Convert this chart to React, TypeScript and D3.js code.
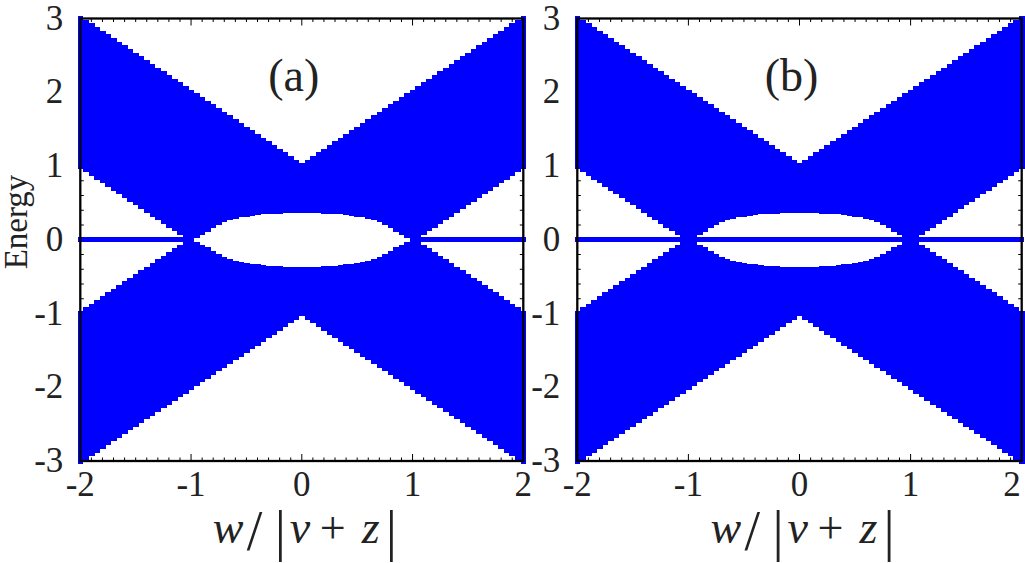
import React from 'react';
import * as d3 from 'd3';

// sampled coupling values w/|v+z| (one column of eigenvalues per value)
const wGrid = [
  -2.0, -1.95, -1.9, -1.85, -1.8, -1.75, -1.7, -1.65, -1.6, -1.55,
  -1.5, -1.45, -1.4, -1.35, -1.3, -1.25, -1.2, -1.15, -1.1, -1.05,
  -1.0, -0.95, -0.9, -0.85, -0.8, -0.75, -0.7, -0.65, -0.6, -0.55,
  -0.5, -0.45, -0.4, -0.35, -0.3, -0.25, -0.2, -0.15, -0.1, -0.05,
  0.0,
  0.05, 0.1, 0.15, 0.2, 0.25, 0.3, 0.35, 0.4, 0.45, 0.5,
  0.55, 0.6, 0.65, 0.7, 0.75, 0.8, 0.85, 0.9, 0.95, 1.0,
  1.05, 1.1, 1.15, 1.2, 1.25, 1.3, 1.35, 1.4, 1.45, 1.5,
  1.55, 1.6, 1.65, 1.7, 1.75, 1.8, 1.85, 1.9, 1.95, 2.0,
];

// upper band: outer (top) edge
const upperOuter = [
  3.0, 2.95, 2.9, 2.85, 2.8, 2.75, 2.7, 2.65, 2.6, 2.55,
  2.5, 2.45, 2.4, 2.35, 2.3, 2.25, 2.2, 2.15, 2.1, 2.05,
  2.0, 1.95, 1.9, 1.85, 1.8, 1.75, 1.7, 1.65, 1.6, 1.55,
  1.5, 1.45, 1.4, 1.35, 1.3, 1.25, 1.2, 1.15, 1.1, 1.05,
  1.0,
  1.05, 1.1, 1.15, 1.2, 1.25, 1.3, 1.35, 1.4, 1.45, 1.5,
  1.55, 1.6, 1.65, 1.7, 1.75, 1.8, 1.85, 1.9, 1.95, 2.0,
  2.05, 2.1, 2.15, 2.2, 2.25, 2.3, 2.35, 2.4, 2.45, 2.5,
  2.55, 2.6, 2.65, 2.7, 2.75, 2.8, 2.85, 2.9, 2.95, 3.0,
];

// upper band: inner (gap side) edge
const upperInner = [
  1.0, 0.95, 0.9, 0.85, 0.8, 0.75, 0.7, 0.65, 0.6, 0.55,
  0.5, 0.45, 0.4, 0.35, 0.3, 0.25, 0.2, 0.15, 0.1, 0.05,
  0.0, 0.06, 0.1, 0.14, 0.19, 0.23, 0.27, 0.3, 0.32, 0.34,
  0.35, 0.36, 0.37, 0.38, 0.39, 0.39, 0.39, 0.4, 0.4, 0.4,
  0.4,
  0.4, 0.4, 0.4, 0.39, 0.39, 0.39, 0.38, 0.37, 0.36, 0.35,
  0.34, 0.32, 0.3, 0.27, 0.23, 0.19, 0.14, 0.1, 0.06, 0.0,
  0.05, 0.1, 0.15, 0.2, 0.25, 0.3, 0.35, 0.4, 0.45, 0.5,
  0.55, 0.6, 0.65, 0.7, 0.75, 0.8, 0.85, 0.9, 0.95, 1.0,
];

// lower band: inner (gap side) edge
const lowerInner = [
  -1.0, -0.95, -0.9, -0.85, -0.8, -0.75, -0.7, -0.65, -0.6, -0.55,
  -0.5, -0.45, -0.4, -0.35, -0.3, -0.25, -0.2, -0.15, -0.1, -0.05,
  0.0, -0.06, -0.1, -0.14, -0.19, -0.23, -0.27, -0.3, -0.32, -0.34,
  -0.35, -0.36, -0.37, -0.38, -0.39, -0.39, -0.39, -0.4, -0.4, -0.4,
  -0.4,
  -0.4, -0.4, -0.4, -0.39, -0.39, -0.39, -0.38, -0.37, -0.36, -0.35,
  -0.34, -0.32, -0.3, -0.27, -0.23, -0.19, -0.14, -0.1, -0.06, 0.0,
  -0.05, -0.1, -0.15, -0.2, -0.25, -0.3, -0.35, -0.4, -0.45, -0.5,
  -0.55, -0.6, -0.65, -0.7, -0.75, -0.8, -0.85, -0.9, -0.95, -1.0,
];

// lower band: outer (bottom) edge
const lowerOuter = [
  -3.0, -2.95, -2.9, -2.85, -2.8, -2.75, -2.7, -2.65, -2.6, -2.55,
  -2.5, -2.45, -2.4, -2.35, -2.3, -2.25, -2.2, -2.15, -2.1, -2.05,
  -2.0, -1.95, -1.9, -1.85, -1.8, -1.75, -1.7, -1.65, -1.6, -1.55,
  -1.5, -1.45, -1.4, -1.35, -1.3, -1.25, -1.2, -1.15, -1.1, -1.05,
  -1.0,
  -1.05, -1.1, -1.15, -1.2, -1.25, -1.3, -1.35, -1.4, -1.45, -1.5,
  -1.55, -1.6, -1.65, -1.7, -1.75, -1.8, -1.85, -1.9, -1.95, -2.0,
  -2.05, -2.1, -2.15, -2.2, -2.25, -2.3, -2.35, -2.4, -2.45, -2.5,
  -2.55, -2.6, -2.65, -2.7, -2.75, -2.8, -2.85, -2.9, -2.95, -3.0,
];

// w ranges that carry zero-energy modes
const zeroLineA = [[-2.0, -1.0], [1.0, 2.0]];
const zeroLineB = [[-2.0, 2.0]];

const xTickValues = [-2, -1, 0, 1, 2];
const yTickValues = [-3, -2, -1, 0, 1, 2, 3];

const BLUE = '#0000ff';
const FONT = 'Liberation Serif';
const TOP = 18.5;
const BOTTOM = 461;

interface PanelProps {
  label: string;
  left: number;
  right: number;
  zero: number[][];
}

const Panel = ({ label, left, right, zero }: PanelProps) => {
  const x = d3.scaleLinear().domain([-2, 2]).range([left, right]);
  const y = d3.scaleLinear().domain([-3, 3]).range([BOTTOM, TOP]);
  const hw = (wGrid[1] - wGrid[0]) / 2;
  const pad = 2.6; // marker size
  const lineW = 4.7;
  const cx = (left + right) / 2;

  const isMajor = (v: number) => Math.abs(v - Math.round(v)) < 1e-6;

  return (
    <g>
      {/* ticks, drawn under the data */}
      <g stroke="#000" strokeWidth={1}>
        {x.ticks(40).map((v, i) => {
          const len = isMajor(v) ? 7 : 3.5;
          return (
            <g key={'xt' + i}>
              <line x1={x(v)} x2={x(v)} y1={BOTTOM} y2={BOTTOM - len} />
              <line x1={x(v)} x2={x(v)} y1={TOP} y2={TOP + len} />
            </g>
          );
        })}
        {y.ticks(30).map((v, i) => {
          const len = isMajor(v) ? 7 : 3.5;
          return (
            <g key={'yt' + i}>
              <line x1={left} x2={left + len} y1={y(v)} y2={y(v)} />
              <line x1={right} x2={right - len} y1={y(v)} y2={y(v)} />
            </g>
          );
        })}
      </g>

      {/* bands */}
      <g fill={BLUE} shapeRendering="crispEdges">
        {wGrid.map((w, i) => {
          const x0 = x(w - hw);
          const wd = x(w + hw) - x0 + 0.4;
          const uTop = y(upperOuter[i]) - pad;
          const uBot = y(upperInner[i]) + pad;
          const lTop = y(lowerInner[i]) - pad;
          const lBot = y(lowerOuter[i]) + pad;
          return (
            <g key={'c' + i}>
              <rect x={x0} y={uTop} width={wd} height={Math.max(0, uBot - uTop)} />
              <rect x={x0} y={lTop} width={wd} height={Math.max(0, lBot - lTop)} />
            </g>
          );
        })}
        {zero.map(([a, b], i) => (
          <rect
            key={'z' + i}
            x={x(a - hw)}
            y={y(0) - lineW / 2}
            width={x(b + hw) - x(a - hw)}
            height={lineW}
          />
        ))}
      </g>

      {/* frame */}
      <rect
        x={left}
        y={TOP}
        width={right - left}
        height={BOTTOM - TOP}
        fill="none"
        stroke="#000"
        strokeWidth={2.3}
      />

      {/* tick labels (the last one kept inside the figure) */}
      {xTickValues.map((v) => (
        <text
          key={'xl' + v}
          x={Math.min(x(v), 1012)}
          y={BOTTOM + 35}
          textAnchor="middle"
          style={{ fontFamily: FONT, fontSize: 35 }}
          fill="#222"
        >
          {String(v)}
        </text>
      ))}
      {yTickValues.map((v) => (
        <text
          key={'yl' + v}
          x={left - 17}
          y={y(v) + 11}
          textAnchor="end"
          style={{ fontFamily: FONT, fontSize: 35 }}
          fill="#222"
        >
          {String(v)}
        </text>
      ))}

      <text
        x={cx - 8}
        y={91}
        textAnchor="middle"
        fill="#222"
        style={{ fontFamily: FONT, fontSize: 46 }}
      >
        {label}
      </text>

      {/* x axis label: w/|v+z| */}
      <text fill="#222" style={{ fontFamily: FONT, fontSize: 46 }}>
        <tspan x={cx - 89} y={543} fontStyle="italic">w</tspan>
        <tspan x={cx - 55} y={550} style={{ fontSize: 56 }}>/</tspan>
        <tspan x={cx - 27} y={550} style={{ fontSize: 56 }}>|</tspan>
        <tspan x={cx - 12} y={543} fontStyle="italic">v</tspan>
        <tspan x={cx + 18} y={543}>+</tspan>
        <tspan x={cx + 60} y={543} fontStyle="italic">z</tspan>
        <tspan x={cx + 84} y={550} style={{ fontSize: 56 }}>|</tspan>
      </text>
    </g>
  );
};

const panels = [
  { label: '(a)', left: 80.3, right: 523.3, zero: zeroLineA },
  { label: '(b)', left: 577.3, right: 1021.7, zero: zeroLineB },
];

export default function App() {
  return (
    <svg
      width={1025}
      height={563}
      viewBox="0 0 1025 563"
      style={{ position: 'absolute', left: 0, top: 0, background: '#fff' }}
    >
      <rect width={1025} height={563} fill="#fff" />
      {panels.map((p) => (
        <Panel key={p.label} {...p} />
      ))}
      <text
        transform="translate(27, 222) rotate(-90)"
        textAnchor="middle"
        fill="#222"
        style={{ fontFamily: FONT, fontSize: 33 }}
      >
        Energy
      </text>
    </svg>
  );
}
